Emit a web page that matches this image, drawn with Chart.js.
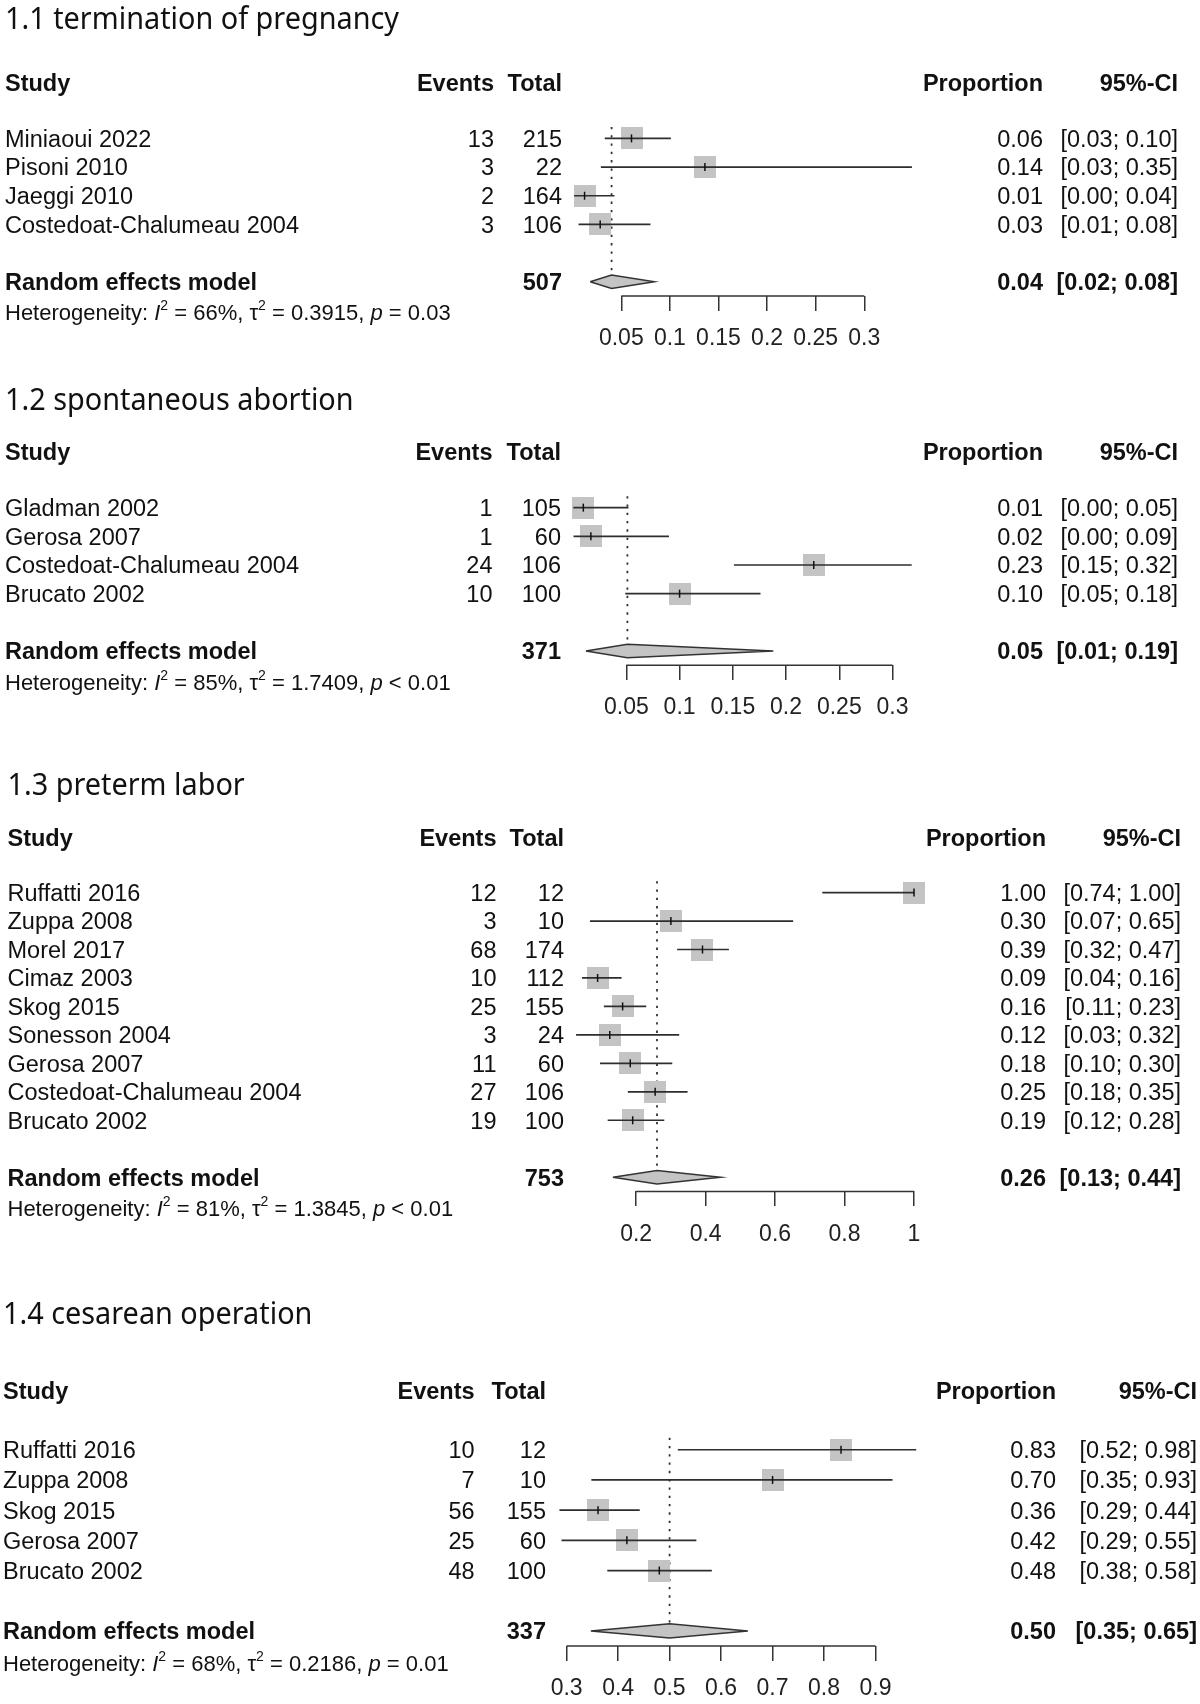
<!DOCTYPE html>
<html>
<head>
<meta charset="utf-8">
<script src="https://cdn.jsdelivr.net/npm/chart.js@4.4.1/dist/chart.umd.min.js"></script>
<style>
  html, body { margin: 0; padding: 0; background: #fff; overflow: hidden; }
  #page { position: relative; width: 1200px; height: 1704px; overflow: hidden; background: #fff; }
  #page canvas { position: absolute; left: 0; }
</style>
</head>
<body>
<div id="page"></div>
<script>
// ---- data ----
const titles = ['1.1 termination of pregnancy', '1.2 spontaneous abortion', '1.3 preterm labor', '1.4 cesarean operation'];

const studies1 = ['Miniaoui 2022', 'Pisoni 2010', 'Jaeggi 2010', 'Costedoat-Chalumeau 2004'];
const events1 = [13, 3, 2, 3];
const totals1 = [215, 22, 164, 106];
const prop1 = [0.0605, 0.136, 0.0122, 0.0283];
const lower1 = [0.033, 0.029, 0.0015, 0.006];
const upper1 = [0.101, 0.349, 0.043, 0.080];
const pooled1 = [0.040, 0.018, 0.084];
const het1 = ['66%', '0.3915', '= 0.03'];
const ticks1 = [0.05, 0.1, 0.15, 0.2, 0.25, 0.3];
const tickLabels1 = ['0.05', '0.1', '0.15', '0.2', '0.25', '0.3'];

const studies2 = ['Gladman 2002', 'Gerosa 2007', 'Costedoat-Chalumeau 2004', 'Brucato 2002'];
const events2 = [1, 1, 24, 10];
const totals2 = [105, 60, 106, 100];
const prop2 = [0.0096, 0.0167, 0.226, 0.100];
const lower2 = [0.0002, 0.0004, 0.151, 0.049];
const upper2 = [0.052, 0.090, 0.318, 0.176];
const pooled2 = [0.051, 0.012, 0.188];
const het2 = ['85%', '1.7409', '< 0.01'];
const ticks2 = [0.05, 0.1, 0.15, 0.2, 0.25, 0.3];
const tickLabels2 = ['0.05', '0.1', '0.15', '0.2', '0.25', '0.3'];

const studies3 = ['Ruffatti 2016', 'Zuppa 2008', 'Morel 2017', 'Cimaz 2003', 'Skog 2015', 'Sonesson 2004', 'Gerosa 2007', 'Costedoat-Chalumeau 2004', 'Brucato 2002'];
const events3 = [12, 3, 68, 10, 25, 3, 11, 27, 19];
const totals3 = [12, 10, 174, 112, 155, 24, 60, 106, 100];
const prop3 = [1.0, 0.30, 0.391, 0.089, 0.161, 0.124, 0.183, 0.2547, 0.19];
const lower3 = [0.736, 0.067, 0.318, 0.044, 0.107, 0.027, 0.096, 0.176, 0.118];
const upper3 = [1.0, 0.652, 0.467, 0.158, 0.229, 0.324, 0.304, 0.348, 0.281];
const pooled3 = [0.26, 0.133, 0.443];
const het3 = ['81%', '1.3845', '< 0.01'];
const ticks3 = [0.2, 0.4, 0.6, 0.8, 1];
const tickLabels3 = ['0.2', '0.4', '0.6', '0.8', '1'];

const studies4 = ['Ruffatti 2016', 'Zuppa 2008', 'Skog 2015', 'Gerosa 2007', 'Brucato 2002'];
const events4 = [10, 7, 56, 25, 48];
const totals4 = [12, 10, 155, 60, 100];
const prop4 = [0.833, 0.70, 0.361, 0.417, 0.48];
const lower4 = [0.516, 0.348, 0.286, 0.290, 0.379];
const upper4 = [0.979, 0.933, 0.442, 0.552, 0.582];
const pooled4 = [0.50, 0.347, 0.652];
const het4 = ['68%', '0.2186', '= 0.01'];
const ticks4 = [0.3, 0.4, 0.5, 0.6, 0.7, 0.8, 0.9];
const tickLabels4 = ['0.3', '0.4', '0.5', '0.6', '0.7', '0.8', '0.9'];

const panels = [
  { title: titles[0], studies: studies1, events: events1, totals: totals1, prop: prop1, lower: lower1, upper: upper1, pooled: pooled1, het: het1, ticks: ticks1, tickLabels: tickLabels1 },
  { title: titles[1], studies: studies2, events: events2, totals: totals2, prop: prop2, lower: lower2, upper: upper2, pooled: pooled2, het: het2, ticks: ticks2, tickLabels: tickLabels2 },
  { title: titles[2], studies: studies3, events: events3, totals: totals3, prop: prop3, lower: lower3, upper: upper3, pooled: pooled3, het: het3, ticks: ticks3, tickLabels: tickLabels3 },
  { title: titles[3], studies: studies4, events: events4, totals: totals4, prop: prop4, lower: lower4, upper: upper4, pooled: pooled4, het: het4, ticks: ticks4, tickLabels: tickLabels4 }
];

// ---- layout (page pixels) ----
// cols: study (left), events, total, proportion, CI (right edges)
const layouts = [
  { row0: 138, step: 28.67, titleRow: -4.22, cols: [5, 494, 562, 1043, 1178], x0: 572.7, xUnit: 972, xMin: 0, xMax: 0.36 },
  { row0: 507.3, step: 28.67, titleRow: -3.81, cols: [5, 492.5, 561, 1043, 1178], x0: 573.1, xUnit: 1064.8, xMin: 0, xMax: 0.33 },
  { row0: 892.3, step: 28.46, titleRow: -3.81, cols: [7.5, 496.5, 564, 1046, 1181], x0: 566.7, xUnit: 347.3, xMin: 0, xMax: 1.03 },
  { row0: 1450, step: 30.2, titleRow: -4.52, cols: [3, 474.6, 546, 1056, 1197], x0: 412.2, xUnit: 514.8, xMin: 0.25, xMax: 1.0 }
];

const FAM = '"Liberation Sans"';
const FS = 23.5;
const REG = FS + 'px ' + FAM;
const BOLD = 'bold ' + FS + 'px ' + FAM;
const HFS = 22;
const HET = HFS + 'px ' + FAM;
const HET_I = 'italic ' + HFS + 'px ' + FAM;
const SUP = '14px ' + FAM;
const TFS = 31;
const TITLE_FONT = TFS + 'px "Noto Sans"';
const SX_TITLE = 0.93;
const INK = '#111';
const DIAMOND_H = 0.235;
const HEADER_ROW = -1.95;

Chart.defaults.font.family = 'Liberation Sans';

const boxImg = document.createElement('canvas');
boxImg.width = 22;
boxImg.height = 22;
const bctx = boxImg.getContext('2d');
bctx.fillStyle = '#c4c4c4';
bctx.fillRect(0, 0, 22, 22);

// text centred vertically on y (cap-height centre), alphabetic baseline
function put(ctx, s, x, y, font, size, align, sx) {
  ctx.save();
  ctx.font = font;
  ctx.fillStyle = INK;
  ctx.textAlign = align;
  ctx.textBaseline = 'alphabetic';
  ctx.translate(x, y + 0.358 * size);
  ctx.scale(sx, 1);
  ctx.fillText(s, 0, 0);
  const w = ctx.measureText(s).width * sx;
  ctx.restore();
  return w;
}

const ci = (lo, hi) => '[' + lo.toFixed(2) + '; ' + hi.toFixed(2) + ']';

function textPlugin(P, L) {
  return {
    id: 'forestText',
    afterDraw(chart) {
      const ctx = chart.ctx;
      const y = chart.scales.y;
      const [cName, cEv, cTot, cProp, cCi] = L.cols;
      const n = P.studies.length;

      put(ctx, P.title, cName, y.getPixelForValue(L.titleRow), TITLE_FONT, TFS, 'left', SX_TITLE);

      const hy = y.getPixelForValue(HEADER_ROW);
      put(ctx, 'Study', cName, hy, BOLD, FS, 'left', 1);
      put(ctx, 'Events', cEv, hy, BOLD, FS, 'right', 1);
      put(ctx, 'Total', cTot, hy, BOLD, FS, 'right', 1);
      put(ctx, 'Proportion', cProp, hy, BOLD, FS, 'right', 1);
      put(ctx, '95%-CI', cCi, hy, BOLD, FS, 'right', 1);

      P.studies.forEach((s, i) => {
        const ry = y.getPixelForValue(i);
        put(ctx, s, cName, ry, REG, FS, 'left', 1);
        put(ctx, String(P.events[i]), cEv, ry, REG, FS, 'right', 1);
        put(ctx, String(P.totals[i]), cTot, ry, REG, FS, 'right', 1);
        put(ctx, P.prop[i].toFixed(2), cProp, ry, REG, FS, 'right', 1);
        put(ctx, ci(P.lower[i], P.upper[i]), cCi, ry, REG, FS, 'right', 1);
      });

      const my = y.getPixelForValue(n + 1);
      const total = P.totals.reduce((a, b) => a + b, 0);
      put(ctx, 'Random effects model', cName, my, BOLD, FS, 'left', 1);
      put(ctx, String(total), cTot, my, BOLD, FS, 'right', 1);
      put(ctx, P.pooled[0].toFixed(2), cProp, my, BOLD, FS, 'right', 1);
      put(ctx, ci(P.pooled[1], P.pooled[2]), cCi, my, BOLD, FS, 'right', 1);

      const ey = y.getPixelForValue(n + 2.07);
      const parts = [
        ['Heterogeneity: ', HET, HFS, 0], ['I', HET_I, HFS, 0], ['2', SUP, 14, -7],
        [' = ' + P.het[0] + ', ', HET, HFS, 0], ['\u03c4', HET, HFS, 0], ['2', SUP, 14, -7],
        [' = ' + P.het[1] + ', ', HET, HFS, 0], ['p', HET_I, HFS, 0], [' ' + P.het[2], HET, HFS, 0]
      ];
      let x = cName;
      for (const [s, f, sz, dy] of parts) x += put(ctx, s, x, ey + dy, f, sz, 'left', 1);
    }
  };
}

const page = document.getElementById('page');

function makeChart(P, L) {
  const n = P.studies.length;
  const yStart = L.titleRow - 1.2;
  const H = Math.round((n + 3.9 - yStart) * L.step);
  const top = L.row0 + yStart * L.step;
  const off = L.row0 - top;           // pixel of row 0 inside the canvas
  const left = L.x0 + L.xMin * L.xUnit;
  const right = L.x0 + L.xMax * L.xUnit;

  const canvas = document.createElement('canvas');
  canvas.width = 1200;
  canvas.height = H;
  canvas.style.top = top + 'px';
  page.appendChild(canvas);

  const rnd = n + 1;
  const axisRow = n + 1.5;
  const [est, lo, hi] = P.pooled;

  const ciLines = [];
  P.lower.forEach((l, i) => {
    ciLines.push({ x: l, y: i }, { x: P.upper[i], y: i }, { x: null, y: null });
  });

  const chart = new Chart(canvas, {
    type: 'scatter',
    data: {
      datasets: [
        { // dotted line at the pooled estimate
          type: 'line', showLine: true, order: 6, clip: false,
          data: [{ x: est, y: -0.4 }, { x: est, y: rnd - DIAMOND_H }],
          borderColor: '#333', borderWidth: 1.8, borderDash: [2.3, 6], pointRadius: 0
        },
        { // study boxes
          order: 5, clip: false,
          data: P.prop.map((v, i) => ({ x: v, y: i })),
          pointStyle: boxImg, pointRadius: 11, pointHoverRadius: 11
        },
        { // confidence intervals
          type: 'line', showLine: true, order: 4, clip: false, spanGaps: false,
          data: ciLines,
          borderColor: '#2e2e2e', borderWidth: 1.7, pointRadius: 0
        },
        { // estimate ticks inside the boxes
          order: 3, clip: false,
          data: P.prop.map((v, i) => ({ x: v, y: i })),
          pointStyle: 'line', pointRotation: 90, pointRadius: 4, pointHoverRadius: 4,
          pointBorderWidth: 1.5, pointBorderColor: '#111', pointBackgroundColor: '#111'
        },
        { // random effects diamond
          type: 'line', showLine: true, order: 2, clip: false, fill: 'shape',
          data: [{ x: lo, y: rnd }, { x: est, y: rnd - DIAMOND_H }, { x: hi, y: rnd }, { x: est, y: rnd + DIAMOND_H }, { x: lo, y: rnd }],
          backgroundColor: '#c4c4c4', borderColor: '#333', borderWidth: 1.5, pointRadius: 0, tension: 0
        },
        { // axis line spanning the ticks
          type: 'line', showLine: true, order: 1, clip: false,
          data: [{ x: P.ticks[0], y: axisRow }, { x: P.ticks[P.ticks.length - 1], y: axisRow }],
          borderColor: '#333', borderWidth: 1.5, pointRadius: 0
        }
      ]
    },
    options: {
      responsive: false,
      animation: false,
      events: [],
      layout: { padding: { left: left, right: 1200 - right, top: 0, bottom: 0 } },
      plugins: { legend: { display: false }, tooltip: { enabled: false } },
      scales: {
        x: {
          type: 'linear', min: L.xMin, max: L.xMax, bounds: 'data',
          position: { y: axisRow },
          afterBuildTicks: (s) => { s.ticks = P.ticks.map(v => ({ value: v })); },
          grid: { drawOnChartArea: false, drawTicks: true, tickLength: 15, color: '#333', lineWidth: 1.5 },
          border: { display: false },
          ticks: {
            autoSkip: false, maxRotation: 0, minRotation: 0, padding: 14, color: '#222',
            font: { family: 'Liberation Sans', size: 23 },
            callback: (v, i) => P.tickLabels[i]
          }
        },
        y: { type: 'linear', reverse: true, min: yStart, max: yStart + H / L.step, bounds: 'data', display: false }
      }
    },
    plugins: [textPlugin(P, L)]
  });

  // fit the row scale to the real chart area so each row lands on its page pixel
  const a = chart.chartArea;
  chart.options.scales.y.min = (a.top - off) / L.step;
  chart.options.scales.y.max = (a.bottom - off) / L.step;
  chart.update();
}

panels.forEach((P, k) => makeChart(P, layouts[k]));
</script>
</body>
</html>
